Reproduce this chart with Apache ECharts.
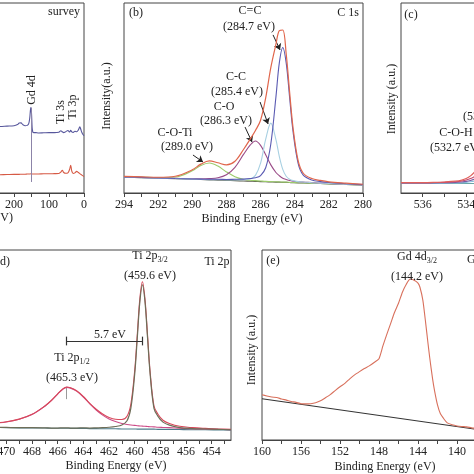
<!DOCTYPE html>
<html>
<head>
<meta charset="utf-8">
<script src="https://cdn.jsdelivr.net/npm/echarts@6.0.0/dist/echarts.min.js"></script>
<style>
  html, body { margin: 0; padding: 0; background: #fff; }
  #main { width: 474px; height: 474px; }
</style>
</head>
<body>
<div id="main"></div>
<script>
// (a) survey spectrum
var surveyEV = [300, 280, 260, 240, 220, 200, 190, 185, 180, 175, 168, 162, 158, 155, 152, 150, 148, 146, 143, 138, 130, 115, 100, 85, 72, 66, 62, 58, 52, 46, 41, 38, 35, 31, 26, 21, 16, 12, 9, 6, 3, 0];
var surveyTop = [34.0, 34.3, 34.6, 35.0, 35.2, 35.4, 36.0, 36.8, 36.9, 36.0, 35.4, 35.6, 36.5, 39.5, 45.0, 42.0, 34.0, 32.0, 31.8, 31.8, 31.6, 31.7, 31.8, 31.8, 32.0, 32.8, 32.2, 31.8, 32.3, 32.9, 32.1, 33.0, 32.2, 31.9, 32.5, 32.2, 33.2, 34.8, 33.4, 31.8, 30.8, 30.2];
var surveyBottom = [9.3, 9.4, 9.5, 9.6, 9.7, 9.8, 9.8, 9.8, 9.9, 9.9, 9.9, 10.0, 10.0, 10.0, 10.1, 10.1, 10.0, 10.0, 10.0, 10.0, 10.0, 10.1, 10.1, 10.2, 10.3, 11.0, 12.0, 10.8, 10.4, 10.6, 12.5, 14.6, 11.6, 10.3, 10.6, 11.4, 10.8, 10.2, 9.8, 9.4, 9.0, 8.7];
var surveyTicks = [0, 50, 100, 150, 200, 250, 300];
var surveyLabels = [0, 100, 200, 300];

// (b) C 1s
var c1sEV = [294, 293, 292, 291, 290, 289.5, 289, 288.5, 288, 287.5, 287, 286.6, 286.3, 286, 285.7, 285.4, 285.1, 284.9, 284.7, 284.5, 284.3, 284.1, 283.8, 283.5, 283, 282.5, 282, 281, 280];
var c1sEnvelope = [8.7, 8.5, 8.3, 8.8, 12.2, 15.2, 16.9, 15.9, 14.8, 16.7, 22.9, 28.5, 32.9, 38.3, 50.1, 66.0, 78.3, 85.5, 85.8, 73.3, 53.3, 34.5, 17.0, 10.4, 7.6, 6.6, 5.9, 5.2, 4.6];
var c1sCdC = [8.5, 8.2, 7.9, 7.6, 7.4, 7.3, 7.2, 7.2, 7.1, 7.2, 7.3, 7.6, 8.0, 9.2, 13.3, 25.8, 50.6, 68.6, 76.6, 68.5, 50.4, 32.5, 15.6, 9.4, 6.8, 6.0, 5.5, 4.9, 4.4];
var c1sCC = [8.4, 8.1, 7.8, 7.6, 7.3, 7.2, 7.0, 7.0, 6.9, 6.9, 7.0, 7.5, 9.3, 15.7, 28.3, 36.8, 28.1, 19.1, 12.4, 8.8, 7.2, 6.5, 6.0, 5.8, 5.4, 5.2, 5.0, 4.6, 4.3];
var c1sCO = [8.5, 8.2, 7.9, 7.7, 7.5, 7.5, 7.6, 8.0, 9.6, 13.5, 20.3, 25.3, 27.4, 25.1, 20.1, 14.8, 10.8, 9.1, 7.8, 7.1, 6.6, 6.2, 5.9, 5.8, 5.5, 5.2, 5.0, 4.6, 4.3];
var c1sCOTi = [8.5, 8.3, 8.1, 8.4, 11.7, 14.5, 15.8, 14.2, 11.1, 8.6, 7.2, 6.7, 6.5, 6.3, 6.1, 6.0, 5.9, 5.8, 5.7, 5.7, 5.6, 5.5, 5.4, 5.3, 5.2, 5.0, 4.9, 4.5, 4.2];
var c1sBg = [8.4, 8.1, 7.8, 7.5, 7.2, 7.1, 6.9, 6.8, 6.6, 6.5, 6.3, 6.2, 6.1, 6.0, 5.9, 5.8, 5.7, 5.7, 5.6, 5.6, 5.5, 5.4, 5.3, 5.3, 5.1, 5.0, 4.8, 4.5, 4.2];
var c1sTicks = [280, 281, 282, 283, 284, 285, 286, 287, 288, 289, 290, 291, 292, 293, 294];
var c1sLabels = [280, 282, 284, 286, 288, 290, 292, 294];

// (c) O 1s (only the left edge is in view)
var o1sEV = [537, 536.5, 536, 535.5, 535, 534.5, 534.2, 534, 533.8, 533.6, 533.4];
var o1sEnvelope = [5.5, 5.5, 5.5, 5.6, 5.8, 6.2, 6.8, 7.6, 9.0, 11.2, 13.8];
var o1sFitA = [5.4, 5.4, 5.4, 5.5, 5.6, 5.9, 6.3, 6.8, 7.6, 8.8, 10.2];
var o1sFitB = [5.3, 5.3, 5.3, 5.3, 5.4, 5.5, 5.8, 6.1, 6.6, 7.3, 8.2];
var o1sFitC = [5.2, 5.2, 5.2, 5.2, 5.2, 5.3, 5.4, 5.6, 5.9, 6.3, 6.8];
var o1sBg = [5.0, 5.0, 5.0, 5.0, 5.0, 5.0, 5.0, 5.0, 5.0, 5.0, 5.0];
var o1sTicks = [527, 528, 529, 530, 531, 532, 533, 534, 535, 536];
var o1sLabels = [528, 530, 532, 534, 536];

// (d) Ti 2p
var ti2pEV = [474, 472, 470, 469, 468, 467, 466.5, 466, 465.6, 465.3, 465, 464.5, 464, 463.5, 463, 462.5, 462, 461.5, 461, 460.6, 460.3, 460, 459.8, 459.6, 459.4, 459.2, 459, 458.8, 458.5, 458.2, 457.8, 457.3, 456.5, 455.5, 454.5, 453.5, 452.5];
var ti2pEnvelope = [7.6, 8.3, 9.6, 11.0, 13.5, 17.9, 20.8, 24.3, 26.9, 27.9, 27.5, 25.8, 22.9, 19.3, 16.2, 13.7, 11.9, 10.9, 10.8, 12.5, 18.9, 36.7, 55.5, 74.4, 83.3, 74.2, 55.1, 36.0, 17.9, 13.7, 10.4, 8.7, 7.2, 6.5, 6.1, 5.8, 5.6];
var ti2p12 = [7.6, 8.2, 9.5, 10.9, 13.4, 17.8, 20.7, 24.2, 26.7, 27.7, 27.3, 25.6, 22.6, 19.0, 15.8, 13.1, 11.1, 9.7, 8.7, 8.2, 7.9, 7.7, 7.5, 7.4, 7.3, 7.2, 7.1, 7.0, 6.9, 6.7, 6.6, 6.5, 6.2, 5.9, 5.8, 5.6, 5.4];
var ti2p32 = [6.8, 6.8, 6.6, 6.5, 6.5, 6.4, 6.3, 6.3, 6.4, 6.4, 6.3, 6.3, 6.4, 6.3, 6.4, 6.5, 6.7, 7.1, 7.9, 10.1, 16.8, 34.8, 53.7, 72.7, 81.7, 72.7, 53.7, 34.7, 16.7, 12.6, 9.4, 7.8, 6.5, 6.0, 5.8, 5.6, 5.4];
var ti2pBg = [6.8, 6.7, 6.5, 6.4, 6.4, 6.3, 6.2, 6.2, 6.2, 6.2, 6.1, 6.1, 6.1, 6.0, 6.0, 5.9, 5.9, 5.9, 5.8, 5.8, 5.8, 5.8, 5.7, 5.7, 5.7, 5.7, 5.7, 5.7, 5.7, 5.6, 5.6, 5.6, 5.5, 5.4, 5.4, 5.3, 5.2];
var ti2pTicks = [453, 454, 455, 456, 457, 458, 459, 460, 461, 462, 463, 464, 465, 466, 467, 468, 469, 470, 471, 472, 473];
var ti2pLabels = [454, 456, 458, 460, 462, 464, 466, 468, 470, 472];

// (e) Gd 4d
var gdEV = [160, 159.5, 159, 158.5, 158, 157.5, 157, 156.5, 156, 155.5, 155, 154.5, 154, 153.5, 153, 152.5, 152, 151.5, 151, 150.5, 150, 149.5, 149, 148.5, 148, 147.6, 147.2, 146.8, 146.4, 146, 145.6, 145.2, 144.8, 144.4, 144, 143.8, 143.5, 143.2, 143, 142.8, 142.5, 142.3, 142, 141.7, 141.3, 141, 140.5, 140, 139.5, 139, 138.5, 138, 137, 136];
var gdRaw = [23.8, 23.2, 22.6, 22.4, 21.6, 21.0, 20.3, 19.8, 19.1, 19.0, 19.1, 19.6, 20.6, 22.2, 23.9, 26.0, 28.0, 29.8, 32.2, 34.3, 36.0, 37.6, 39.0, 40.8, 42.8, 49.5, 55.6, 61.4, 67.2, 72.0, 77.8, 82.0, 84.7, 84.1, 82.6, 80.4, 73.5, 61.0, 52.0, 43.4, 32.0, 25.9, 18.5, 13.8, 10.8, 9.0, 8.0, 7.4, 7.1, 6.9, 6.4, 6.1, 5.7, 5.3];
var gdBgEV = [160, 136];
var gdBg = [21.7, 4.1];
var gdTicks = [136, 138, 140, 142, 144, 146, 148, 150, 152, 154, 156, 158, 160];
var gdLabels = [136, 140, 144, 148, 152, 156, 160];

var SERIF = '"Liberation Serif", "DejaVu Serif", serif';
var INK = '#222';

function pairs(xs, ys) {
  return xs.map(function (x, i) { return [x, ys[i]]; });
}

function xAx(idx, min, max, ticks, labels) {
  return {
    type: 'value', gridIndex: idx, inverse: true, min: min, max: max,
    axisLine: { lineStyle: { color: '#444', width: 1 } },
    axisTick: { length: 4, customValues: ticks, lineStyle: { color: '#444' } },
    axisLabel: { customValues: labels, fontFamily: SERIF, fontSize: 12, color: INK, margin: 6 },
    splitLine: { show: false }
  };
}

function yAx(idx) {
  return { type: 'value', gridIndex: idx, min: 0, max: 100, show: false };
}

function line(idx, xs, ys, color, width, z) {
  return {
    type: 'line', xAxisIndex: idx, yAxisIndex: idx, data: pairs(xs, ys),
    showSymbol: false, smooth: 0.35, lineStyle: { color: color, width: width || 1.1 },
    z: z || 2, silent: true
  };
}

function seg(a, b) {
  return [{ coord: a }, { coord: b }];
}

function txt(x, y, s, opt) {
  opt = opt || {};
  return {
    type: 'text', x: x, y: y, rotation: opt.rot || 0, z: 100,
    style: {
      text: s, font: (opt.size || 12) + 'px ' + SERIF, fill: INK,
      align: opt.align || 'center', verticalAlign: 'middle', rich: opt.rich
    }
  };
}

var subRich = {
  n: { fontSize: 12, fontFamily: SERIF, fill: INK, lineHeight: 16 },
  s: { fontSize: 8, fontFamily: SERIF, fill: INK, lineHeight: 9, verticalAlign: 'bottom' }
};

function frame(left, top, width, height) {
  return {
    left: left, top: top, width: width, height: height,
    outerBoundsMode: 'none', containLabel: false,
    show: true, borderColor: '#444', borderWidth: 1, backgroundColor: 'transparent'
  };
}

var series = [];
// (a)
var sA = line(0, surveyEV, surveyTop, '#57579c', 1.1, 3);
sA.markLine = {
  silent: true, symbol: ['none', 'none'], label: { show: false },
  lineStyle: { color: '#8c84a8', width: 1, type: 'solid' },
  data: [seg([151, 45], [151, 5.8])]
};
series.push(sA);
series.push(line(0, surveyEV, surveyBottom, '#d65a45', 1.1, 3));
// (b)
series.push(line(1, c1sEV, c1sBg, '#5b5b4c', 1.1, 2));
series.push(line(1, c1sEV, c1sCOTi, '#9ccb6c', 1.1, 3));
series.push(line(1, c1sEV, c1sCO, '#9a4c88', 1.1, 3));
series.push(line(1, c1sEV, c1sCC, '#a8d0e2', 1.1, 3));
series.push(line(1, c1sEV, c1sCdC, '#5a5ab2', 1.1, 4));
var sB = line(1, c1sEV, c1sEnvelope, '#e0664c', 1.2, 5);
sB.markLine = {
  silent: true, symbol: ['none', 'arrow'], symbolSize: 6, label: { show: false },
  lineStyle: { color: '#222', width: 1, type: 'solid' },
  data: [
    seg([285.27, 83.2], [284.86, 75.3]),
    seg([286.03, 47.9], [285.56, 36.3]),
    seg([286.91, 34.7], [286.5, 26.8]),
    seg([289.96, 20.0], [289.37, 16.3])
  ]
};
series.push(sB);
// (c)
series.push(line(2, o1sEV, o1sBg, '#6aa4a6', 1.1, 2));
series.push(line(2, o1sEV, o1sFitC, '#86bedc', 1.1, 3));
series.push(line(2, o1sEV, o1sFitB, '#7a5aa2', 1.1, 3));
series.push(line(2, o1sEV, o1sFitA, '#c2466c', 1.1, 3));
series.push(line(2, o1sEV, o1sEnvelope, '#e0605c', 1.2, 4));
// (d)
series.push(line(3, ti2pEV, ti2pBg, '#4c7c8a', 1.1, 2));
series.push(line(3, ti2pEV, ti2p12, '#cc4c88', 1.1, 3));
series.push(line(3, ti2pEV, ti2p32, '#6e6e58', 1.2, 4));
var sD = line(3, ti2pEV, ti2pEnvelope, '#d8485a', 1.1, 3);
sD.markLine = {
  silent: true, symbol: ['none', 'none'], label: { show: false },
  lineStyle: { color: '#333', width: 1.2, type: 'solid' },
  data: [
    seg([465.3, 52.1], [459.4, 52.1]),
    seg([465.3, 49.8], [465.3, 54.4]),
    seg([459.4, 49.8], [459.4, 54.4])
  ]
};
series.push(sD);
var sD2 = line(3, ti2pEV, ti2pBg, '#4c7c8a', 0.1, 1);
sD2.lineStyle.opacity = 0;
sD2.markLine = {
  silent: true, symbol: ['none', 'none'], label: { show: false },
  lineStyle: { color: '#9a9a9a', width: 1, type: 'solid' },
  data: [seg([465.3, 27.4], [465.3, 21.5])]
};
series.push(sD2);
// (e)
series.push(line(4, gdBgEV, gdBg, '#333333', 1.1, 2));
var sE = line(4, gdEV, gdRaw, '#d8705c', 1.1, 3);
sE.smooth = 0.2;
series.push(sE);

var option = {
  animation: false,
  backgroundColor: '#fff',
  grid: [
    frame(-21, 3, 105, 190),
    frame(124, 3, 239, 190),
    frame(401, 3, 239, 190),
    frame(-45, 250, 276, 190),
    frame(262, 250, 234, 190)
  ],
  xAxis: [
    xAx(0, 0, 300, surveyTicks, surveyLabels),
    xAx(1, 280, 294, c1sTicks, c1sLabels),
    xAx(2, 526, 537, o1sTicks, o1sLabels),
    xAx(3, 452.5, 474, ti2pTicks, ti2pLabels),
    xAx(4, 136, 160, gdTicks, gdLabels)
  ],
  yAxis: [yAx(0), yAx(1), yAx(2), yAx(3), yAx(4)],
  series: series,
  graphic: [
    // (a)
    txt(64, 12, 'survey'),
    txt(32, 90, 'Gd 4d', { rot: Math.PI / 2 }),
    txt(61, 112, 'Ti 3s', { rot: Math.PI / 2 }),
    txt(73, 107, 'Ti 3p', { rot: Math.PI / 2 }),
    txt(13, 218, 'Binding Energy (eV)', { align: 'right' }),
    // (b)
    txt(136, 13, '(b)'),
    txt(348, 13, 'C 1s'),
    txt(250, 11, 'C=C'),
    txt(249, 27, '(284.7 eV)'),
    txt(236, 77, 'C-C'),
    txt(237, 92, '(285.4 eV)'),
    txt(224, 107, 'C-O'),
    txt(226, 121, '(286.3 eV)'),
    txt(175, 133, 'C-O-Ti'),
    txt(187, 147, '(289.0 eV)'),
    txt(107, 96, 'Intensity(a.u.)', { rot: Math.PI / 2 }),
    txt(252, 219, 'Binding Energy (eV)'),
    // (c)
    txt(411, 15, '(c)'),
    txt(392, 99, 'Intensity (a.u.)', { rot: Math.PI / 2 }),
    txt(463, 117, '(531.0 eV)', { align: 'left' }),
    txt(456, 133, 'C-O-H'),
    txt(456, 148, '(532.7 eV)'),
    // (d)
    txt(-4, 262, '(d)', { align: 'left' }),
    txt(150, 256, '{n|Ti 2p}{s|3/2}', { rich: subRich }),
    txt(150, 276, '(459.6 eV)'),
    txt(217, 262, 'Ti 2p'),
    txt(110, 335, '5.7 eV'),
    txt(72, 358, '{n|Ti 2p}{s|1/2}', { rich: subRich }),
    txt(72, 378, '(465.3 eV)'),
    txt(116, 466, 'Binding Energy (eV)'),
    // (e)
    txt(273, 261, '(e)'),
    txt(417, 257, '{n|Gd 4d}{s|3/2}', { rich: subRich }),
    txt(417, 277, '(144.2 eV)'),
    txt(467, 260, 'Gd 4d', { align: 'left' }),
    txt(252, 350, 'Intensity (a.u.)', { rot: Math.PI / 2 }),
    txt(385, 467, 'Binding Energy (eV)')
  ]
};

echarts.init(document.getElementById('main'), null, { renderer: 'canvas' }).setOption(option);
</script>
</body>
</html>
